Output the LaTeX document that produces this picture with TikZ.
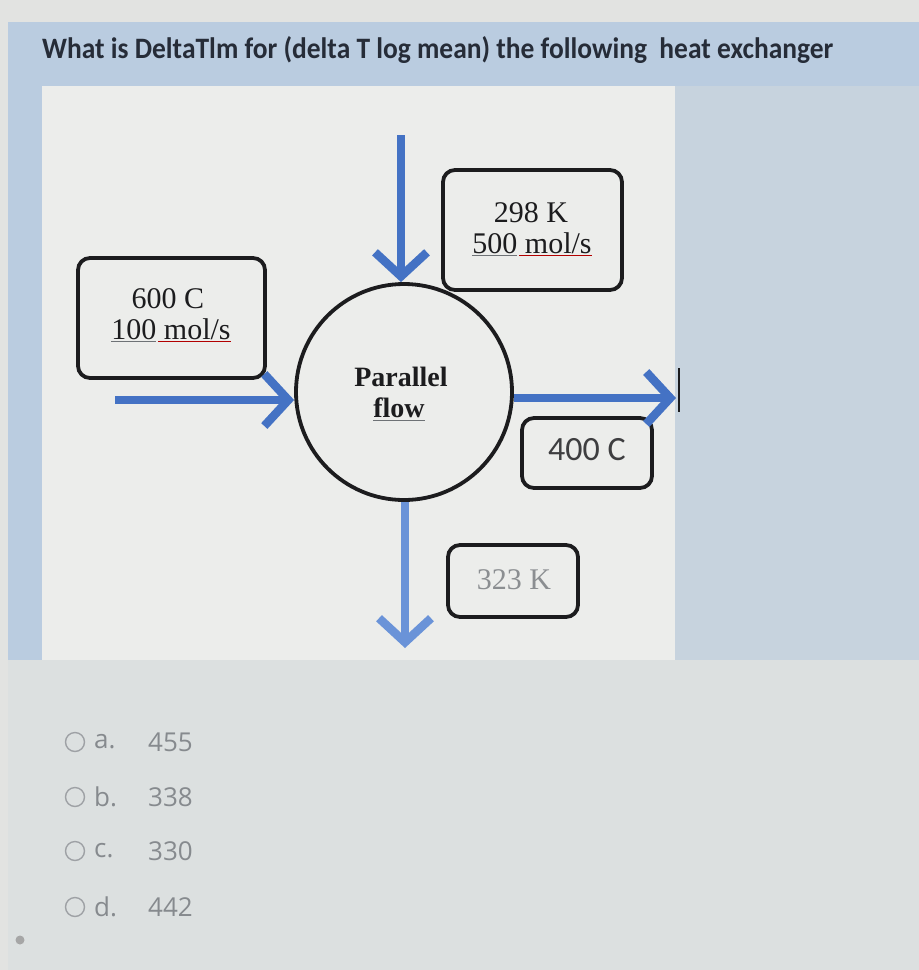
\documentclass[tikz,border=0pt]{standalone}
\usepackage{fontspec}
\usepackage{graphicx}
\setmainfont{Liberation Serif}
\newfontfamily\titlefont{Carlito}
\newfontfamily\answerfont{Open Sans}
\usetikzlibrary{arrows.meta}
\definecolor{pagebg}{HTML}{E2E3E1}
\definecolor{framebg}{HTML}{BACCE0}
\definecolor{rightbg}{HTML}{C7D3DE}
\definecolor{lowbg}{HTML}{DCE0E0}
\definecolor{panelbg}{HTML}{ECEDEB}
\definecolor{flowblue}{HTML}{4472C4}
\definecolor{flowlight}{HTML}{6A93D8}
\definecolor{inkdark}{HTML}{1C1C1E}
\definecolor{titleink}{HTML}{262C38}
\definecolor{answerink}{HTML}{868A8E}
\definecolor{greyink}{HTML}{6E7276}
\tikzset{
  x=1pt, y=-1pt,
  databox/.style={draw=inkdark, line width=3.8pt, rounded corners=12pt},
  flowarrow/.style={draw=flowblue, line width=8.5pt,
    -{Straight Barb[length=24pt,width=52pt]}},
  serifval/.style={font=\fontsize{30}{32}\selectfont, text=inkdark, inner sep=0pt},
  answertext/.style={font=\answerfont\fontsize{26}{28}\selectfont, text=answerink, inner sep=0pt, anchor=west},
  radio/.style={circle, draw=answerink!80, line width=1.4pt, minimum size=19pt, inner sep=0pt}
}
\begin{document}
\begin{tikzpicture}
\useasboundingbox (0,0) rectangle (919,970);
% backgrounds
\fill[pagebg] (0,0) rectangle (919,970);
\fill[framebg] (8,22) rectangle (919,660);
\fill[rightbg] (675,86) rectangle (919,660);
\fill[panelbg] (42,86) rectangle (675,660);
\fill[lowbg] (8,660) rectangle (919,970);
\fill[gray!70] (20,940) circle (4.5);

% title
\node[anchor=west, inner sep=0pt, text=titleink] (title) at (42,50)
  {\resizebox{791pt}{22pt}{\titlefont\bfseries What is DeltaTlm for (delta T log mean) the following\ \ heat exchanger}};

% exchanger
\node[circle, draw=inkdark, line width=3.8pt, minimum size=216pt, inner sep=0pt] (hx) at (404,392) {};
\node[font=\fontsize{28}{30}\selectfont\bfseries, text=inkdark, inner sep=0pt] (lab1) at (401,377) {Parallel};
\node[font=\fontsize{28}{30}\selectfont\bfseries, text=inkdark, inner sep=0pt] (lab2) at (399,408) {flow};
\draw[greyink, line width=1pt] ([yshift=-2pt]lab2.south west) -- ([yshift=-2pt]lab2.south east);

% boxes
\node[databox, minimum width=187pt, minimum height=120pt] (b1) at (171.5,318) {};
\node[serifval] (b1a) at (168,299) {600 C};
\node[serifval] (b1b) at (171,329) {100 mol/s};
\draw[greyink, line width=1pt] ([yshift=-2pt]b1b.south west) -- ++(45,0);
\draw[red!70!black, line width=1pt] ([xshift=47pt,yshift=-2pt]b1b.south west) -- ([yshift=-2pt]b1b.south east);

\node[databox, minimum width=179pt, minimum height=120pt] (b2) at (532.5,230) {};
\node[serifval] (b2a) at (531,213) {298 K};
\node[serifval] (b2b) at (532,243) {500 mol/s};
\draw[greyink, line width=1pt] ([yshift=-2pt]b2b.south west) -- ++(45,0);
\draw[red!70!black, line width=1pt] ([xshift=47pt,yshift=-2pt]b2b.south west) -- ([yshift=-2pt]b2b.south east);

\node[databox, minimum width=130pt, minimum height=70pt] (b3) at (587,453) {};
\node[font=\titlefont\fontsize{34}{36}\selectfont, text=inkdark!85, inner sep=0pt] (b3t) at (587,450) {400 C};

\node[databox, minimum width=130pt, minimum height=72pt] (b4) at (513,581) {};
\node[serifval, text=greyink!80, font=\fontsize{30}{32}\selectfont] (b4t) at (514,580) {323 K};

% flows
\coordinate (topin) at (401,135);
\coordinate (leftin) at (115,400);
\coordinate (rightout) at (676,398);
\coordinate (botout) at (405,648);
\draw[flowarrow] (topin) -- (topin |- hx.north);
\draw[flowarrow] (leftin) -- (leftin -| hx.west);
\draw[flowarrow] (rightout -| hx.east) -- (rightout);
\draw[flowarrow, draw=flowlight] (botout |- hx.south) -- (botout);
\coordinate (tickt) at (679,368);
\coordinate (tickb) at (679,412);
\draw[inkdark, line width=2pt] (tickt) -- (tickb);

% answers
\node[radio] (ra) at (75,742) {};
\node[answertext] (la) at (94,742) {a.};
\node[answertext] (va) at (148,742) {455};
\node[radio] (rb) at (75,797) {};
\node[answertext] (lb) at (94,797) {b.};
\node[answertext] (vb) at (148,797) {338};
\node[radio] (rc) at (75,851) {};
\node[answertext] (lc) at (94,851) {c.};
\node[answertext] (vc) at (148,851) {330};
\node[radio] (rd) at (75,907) {};
\node[answertext] (ld) at (94,907) {d.};
\node[answertext] (vd) at (148,907) {442};
\end{tikzpicture}
\end{document}
